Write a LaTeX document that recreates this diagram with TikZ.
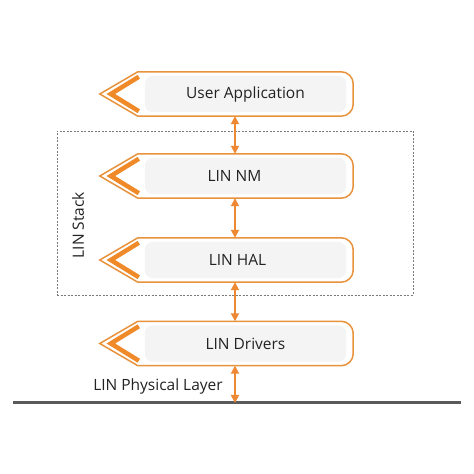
\documentclass[tikz,border=0pt]{standalone}
\usepackage{fontspec}
\setmainfont{Open Sans}
\usetikzlibrary{arrows.meta,calc}
\definecolor{bord}{HTML}{E8923C}
\definecolor{chevc}{HTML}{F08A28}
\definecolor{arrc}{HTML}{EE8833}
\definecolor{innerc}{HTML}{F4F4F4}
\definecolor{textc}{HTML}{222222}
\definecolor{groundc}{HTML}{5A5A5A}
\definecolor{framec}{HTML}{7A7A7A}
\pgfdeclarelayer{bg}
\pgfsetlayers{bg,main}
\newcommand\stackbox[1]{%
  \path[fill=white,draw=bord,line width=1.5pt]
    ($(#1.west)+(-38,0)$) -- (#1.north west) -- ($(#1.north east)+(-12,0)$)
    arc[start angle=90,end angle=0,radius=12pt] -- ($(#1.south east)+(0,12)$)
    arc[start angle=0,end angle=-90,radius=12pt] -- (#1.south west) -- cycle;
  \fill[innerc,rounded corners=8pt] ($(#1.north west)+(7,-4)$) rectangle ($(#1.south east)+(-7,4)$);
  \begin{scope}
    \clip ($(#1.south west)+(-40,0)$) rectangle ($(#1.north west)+(2,0)$);
    \draw[chevc,line width=4.5pt,miter limit=10] ($(#1.north west)+(1,-5)$) -- ($(#1.west)+(-27,0)$) -- ($(#1.south west)+(1,5)$);
  \end{scope}}
\begin{document}
\begin{tikzpicture}[x=1pt,y=1pt,
  box/.style={minimum width=215pt,minimum height=44pt,inner sep=0pt,
    font=\fontsize{15.5}{18}\selectfont,text=textc},
  lbl/.style={inner sep=0pt,font=\fontsize{15.5}{18}\selectfont,text=textc},
  arr/.style={arrc,line width=1.8pt,{Triangle[length=8pt,width=8pt]}-{Triangle[length=8pt,width=8pt]}},
  frame/.style={draw=framec,line width=0.8pt,dash pattern=on 2pt off 1.5pt,minimum width=356pt,minimum height=164pt,inner sep=0pt},
  ground/.style={groundc,line width=3pt}]
\useasboundingbox (0,0) rectangle (474,474);
\begin{pgfonlayer}{bg}
  \fill[white] (0,0) rectangle (474,474);
\end{pgfonlayer}
\node[frame] (stack) at (235,261) {};
\node[lbl,rotate=90] (stacklbl) at (78,249) {LIN Stack};
\node[box] (ua) at (245.5,380) {User Application};
\node[box] (nm) at (245.5,298) {\kern-22pt LIN NM};
\node[box] (hal) at (245.5,214) {\kern-16pt LIN HAL};
\node[box] (drv) at (245.5,130.5) {LIN Drivers};
\begin{pgfonlayer}{bg}
  \stackbox{ua}
  \stackbox{nm}
  \stackbox{hal}
  \stackbox{drv}
\end{pgfonlayer}
\coordinate (ax) at (235,0);
\coordinate (gl) at (13,71);
\coordinate (gr) at (461,71);
\draw[ground] (gl) -- (gr);
\draw[arr] (ua.south -| ax) -- (nm.north -| ax);
\draw[arr] (nm.south -| ax) -- (hal.north -| ax);
\draw[arr] (hal.south -| ax) -- (drv.north -| ax);
\draw[arr] (drv.south -| ax) -- (ax |- gl);
\node[lbl] (phys) at (158,88) {LIN Physical Layer};
\end{tikzpicture}
\end{document}
